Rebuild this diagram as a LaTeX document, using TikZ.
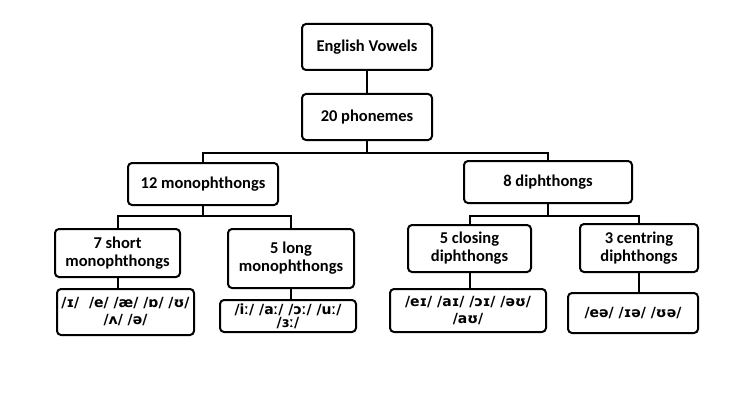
\documentclass[tikz,border=0pt]{standalone}
\usepackage{fontspec}
\setmainfont{Carlito}
\newfontfamily\ipafont{DejaVu Sans}
\begin{document}
\begin{tikzpicture}[x=1pt,y=-1pt,
 bx/.style={draw,line width=2pt,rounded corners=4pt,align=center,font=\fontsize{16.5}{18}\selectfont\bfseries,inner sep=0pt},
 ipa/.style={bx,font=\fontsize{14}{17}\selectfont\ipafont\bfseries},
 ln/.style={line width=2pt}]
\useasboundingbox (0,0) rectangle (743,417);
\newcommand\bxat[6]{\node[#6,minimum width=#3-#1,minimum height=#4-#2] (#5) at ({(#1+#3)/2},{(#2+#4)/2})}
\bxat{302}{24}{432}{70}{ev}{bx} {English Vowels};
\bxat{302}{94}{432}{140}{ph}{bx} {20 phonemes};
\bxat{128}{163}{278}{205}{mo}{bx} {12 monophthongs};
\bxat{464}{161}{632}{203}{di}{bx} {8 diphthongs};
\bxat{55}{229}{180}{277}{sh}{bx} {7 short\\monophthongs};
\bxat{228}{229}{354}{288}{lo}{bx} {5 long\\monophthongs};
\bxat{408}{225}{531}{272}{cl}{bx} {5 closing\\diphthongs};
\bxat{580}{224}{698}{272}{ce}{bx} {3 centring\\diphthongs};
\bxat{57}{289}{194}{335}{ish}{ipa} {/ɪ/ \ /e/ /æ/ /ɒ/ /ʊ/\\/ʌ/ /ə/};
\bxat{220}{300}{356}{332}{ilo}{ipa} {/iː/ /aː/ /ɔː/ /uː/\\[-4pt]/ɜː/};
\bxat{390}{289}{546}{332}{icl}{ipa} {/eɪ/ /aɪ/ /ɔɪ/ /əʊ/\\/aʊ/};
\bxat{568}{293}{698}{333}{ice}{ipa} {/eə/ /ɪə/ /ʊə/};
\draw[ln] (ev) -- (ph);
\draw[ln] (ph.south) -- ++(0,12) coordinate (j1);
\draw[ln] (mo.north) -- (mo.north |- j1) -- (di.north |- j1) -- (di.north);
\draw[ln] (mo.south) -- ++(0,10) coordinate (j2);
\draw[ln] (sh.north) -- (sh.north |- j2) -- (lo.north |- j2) -- (lo.north);
\draw[ln] (di.south) -- ++(0,12) coordinate (j3);
\draw[ln] (cl.north) -- (cl.north |- j3) -- (ce.north |- j3) -- (ce.north);
\draw[ln] (sh) -- (sh |- ish.north);
\draw[ln] (lo) -- (lo |- ilo.north);
\draw[ln] (cl) -- (cl |- icl.north);
\draw[ln] (ce) -- (ce |- ice.north);
\end{tikzpicture}
\end{document}
